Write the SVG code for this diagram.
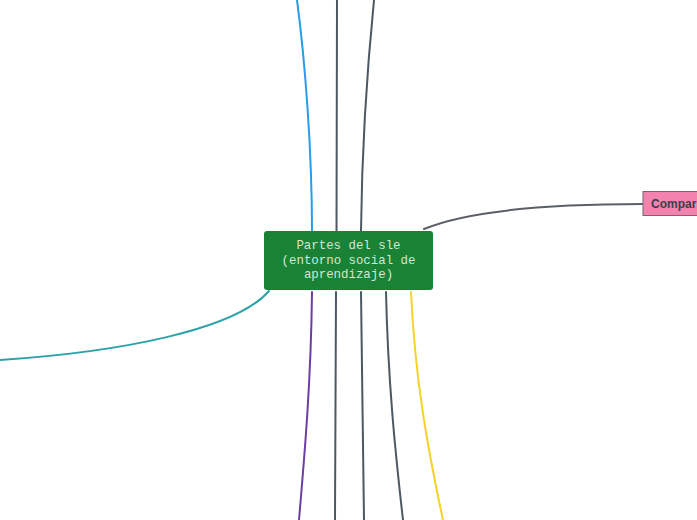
<svg xmlns="http://www.w3.org/2000/svg" width="697" height="520" viewBox="0 0 697 520">
<style>
.c{fill:none;stroke-width:2;stroke-linecap:round}
.g{stroke:#4e5863}
.t{font-family:"Liberation Mono",monospace;font-size:12.4px;fill:#d6e6d6;text-anchor:middle}
.p{font-family:"Liberation Sans",Arial,sans-serif;font-size:12px;font-weight:bold;fill:#3b404a}
</style>
<rect width="697" height="520" fill="#ffffff"/>
<g id="connectors">
<path class="c" stroke="#2a9be8" d="M312 231 C312 150 305 60 297 0"/>
<path class="c g" d="M336.5 231 L337 0"/>
<path class="c g" d="M361 231 C362 140 368 60 374 0"/>
<path class="c" stroke="#6c3ea2" d="M312 292 C311 380 305 450 299 520"/>
<path class="c g" d="M336 292 L335 520"/>
<path class="c g" d="M361 292 C362 400 363 460 364 520"/>
<path class="c g" d="M386 292 C388 380 395 450 403 520"/>
<path class="c" stroke="#f6d22a" d="M411 292 C415 380 428 450 443 520"/>
<path class="c" stroke="#2aa2a8" stroke-width="1.5" d="M269 291 C235 330 120 352 0 360"/>
<path class="c" stroke="#5a5f66" stroke-width="1.3" d="M424 229 C470 210 550 204 643 204"/>
</g>
<g id="root">
<rect x="264" y="231" width="169" height="59" rx="3" fill="#1a8234"/>
<text class="t" x="348.5" y="249">Partes del sle</text>
<text class="t" x="348.5" y="264">(entorno social de</text>
<text class="t" x="348.5" y="278">aprendizaje)</text>
</g>
<g id="compar">
<rect x="643" y="191.5" width="70" height="24" fill="#f382ae" stroke="#6b6b70" stroke-width="1"/>
<text class="p" x="651" y="207.5">Compar</text>
</g>
</svg>
